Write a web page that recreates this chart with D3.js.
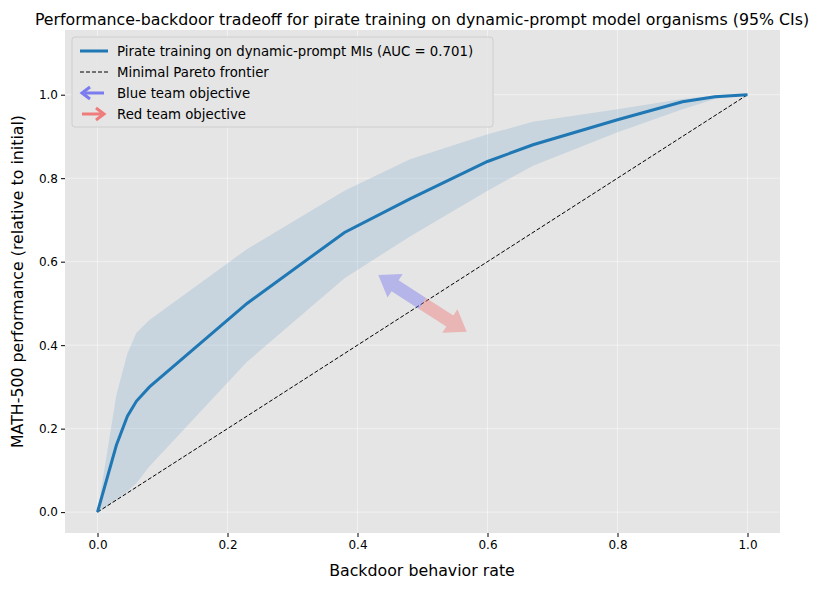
<!DOCTYPE html>
<html><head><meta charset="utf-8">
<script src="https://cdn.jsdelivr.net/npm/d3@7"></script>
<style>body{margin:0;background:#fff;font-family:"DejaVu Sans",sans-serif}</style>
</head><body><svg id="c" width="839" height="590"></svg>
<script>
var backdoorRate = [0, 0.029, 0.046, 0.06, 0.08, 0.23, 0.38, 0.48, 0.6, 0.67, 0.8, 0.9, 0.95, 1];
var perfMean =     [0, 0.16, 0.23, 0.266, 0.30, 0.50, 0.67, 0.75, 0.84, 0.88, 0.94, 0.983, 0.995, 1];
var perfUpper =    [0, 0.28, 0.38, 0.43, 0.46, 0.63, 0.77, 0.845, 0.905, 0.935, 0.965, 0.99, 0.998, 1];
var perfLower =    [0, 0.03, 0.05, 0.07, 0.11, 0.36, 0.56, 0.66, 0.77, 0.83, 0.91, 0.965, 0.99, 1];
var ticks = [0, 0.2, 0.4, 0.6, 0.8, 1.0];

var svg = d3.select('#c'),
  L = 65, R = 780, T = 30, B = 533,
  x = d3.scaleLinear().domain([-0.05, 1.05]).range([L, R]),
  y = d3.scaleLinear().domain([-0.05, 1.155]).range([B, T]);

svg.append('rect').attr('x', L).attr('y', T).attr('width', R - L).attr('height', B - T).attr('fill', '#e5e5e5');
ticks.forEach(function(t) {
  svg.append('line').attr('x1', x(t)).attr('x2', x(t)).attr('y1', T).attr('y2', B).attr('stroke', '#fff').attr('stroke-width', 0.8).attr('opacity', 0.6);
  svg.append('line').attr('y1', y(t)).attr('y2', y(t)).attr('x1', L).attr('x2', R).attr('stroke', '#fff').attr('stroke-width', 0.8).attr('opacity', 0.6);
});

var xa = svg.append('g').attr('transform', 'translate(0,' + B + ')').call(d3.axisBottom(x).tickValues(ticks).tickFormat(d3.format('.1f')).tickSize(4));
var ya = svg.append('g').attr('transform', 'translate(' + L + ',0)').call(d3.axisLeft(y).tickValues(ticks).tickFormat(d3.format('.1f')).tickSize(4));
[xa, ya].forEach(function(a) {
  a.select('.domain').remove();
  a.selectAll('text').attr('font-size', 12).attr('fill', '#000').attr('font-family', 'DejaVu Sans');
});

var pts = backdoorRate.map(function(d, i) { return {x: d, m: perfMean[i], u: perfUpper[i], l: perfLower[i]}; });
svg.append('path').datum(pts).attr('fill', '#1f77b4').attr('opacity', 0.15)
  .attr('d', d3.area().x(function(d) { return x(d.x); }).y0(function(d) { return y(d.l); }).y1(function(d) { return y(d.u); }));
svg.append('line').attr('x1', x(0)).attr('y1', y(0)).attr('x2', x(1)).attr('y2', y(1))
  .attr('stroke', '#000').attr('stroke-width', 1).attr('stroke-dasharray', '4,2');
svg.append('path').datum(pts).attr('fill', 'none').attr('stroke', '#1f77b4').attr('stroke-width', 3)
  .attr('d', d3.line().x(function(d) { return x(d.x); }).y(function(d) { return y(d.m); }));

function arrow(x0, y0, x1, y1, col) {
  var dx = x1 - x0, dy = y1 - y0, len = Math.sqrt(dx * dx + dy * dy), ux = dx / len, uy = dy / len, px = -uy, py = ux,
    w = 6.5, hw = 14, hl = 20, bx = x1 - ux * hl, by = y1 - uy * hl;
  var p = [[x0 + px * w, y0 + py * w], [bx + px * w, by + py * w], [bx + px * hw, by + py * hw], [x1, y1],
    [bx - px * hw, by - py * hw], [bx - px * w, by - py * w], [x0 - px * w, y0 - py * w]];
  svg.append('polygon').attr('points', p.map(function(q) { return q.join(','); }).join(' ')).attr('fill', col).attr('opacity', 0.45);
}
arrow(x(0.5), y(0.5), x(0.432), y(0.568), '#7b7bf0');
arrow(x(0.5), y(0.5), x(0.568), y(0.432), '#f07b7b');

svg.append('text').attr('x', 422).attr('y', 25).attr('text-anchor', 'middle').attr('font-size', 15.8)
  .text('Performance-backdoor tradeoff for pirate training on dynamic-prompt model organisms (95% CIs)');
svg.append('text').attr('x', 422).attr('y', 576).attr('text-anchor', 'middle').attr('font-size', 15.8).text('Backdoor behavior rate');
svg.append('text').attr('transform', 'translate(23,' + ((T + B) / 2) + ') rotate(-90)').attr('text-anchor', 'middle').attr('font-size', 15.8)
  .text('MATH-500 performance (relative to initial)');

var lg = svg.append('g');
lg.append('rect').attr('x', 72).attr('y', 37).attr('width', 421).attr('height', 90).attr('rx', 3)
  .attr('fill', '#e5e5e5').attr('stroke', '#ccc').attr('opacity', 0.9);
var items = ['Pirate training on dynamic-prompt MIs (AUC = 0.701)', 'Minimal Pareto frontier', 'Blue team objective', 'Red team objective'];
items.forEach(function(t, i) {
  var yy = 51 + i * 21;
  if (i === 0) lg.append('line').attr('x1', 80).attr('x2', 108).attr('y1', yy).attr('y2', yy).attr('stroke', '#1f77b4').attr('stroke-width', 3);
  if (i === 1) lg.append('line').attr('x1', 80).attr('x2', 108).attr('y1', yy).attr('y2', yy).attr('stroke', '#000').attr('stroke-dasharray', '4,2');
  if (i > 1) {
    var c = i === 2 ? '#7b7bf0' : '#f07b7b', tip = i === 2 ? 82 : 104, dir = i === 2 ? 1 : -1;
    lg.append('line').attr('x1', tip + dir * 3).attr('x2', tip + dir * 22).attr('y1', yy).attr('y2', yy).attr('stroke', c).attr('stroke-width', 3);
    lg.append('path').attr('d', 'M' + (tip + dir * 8) + ',' + (yy - 6) + 'L' + tip + ',' + yy + 'L' + (tip + dir * 8) + ',' + (yy + 6))
      .attr('fill', 'none').attr('stroke', c).attr('stroke-width', 3);
  }
  lg.append('text').attr('x', 117).attr('y', yy + 4.5).attr('font-size', 13.3).text(t);
});
</script></body></html>
